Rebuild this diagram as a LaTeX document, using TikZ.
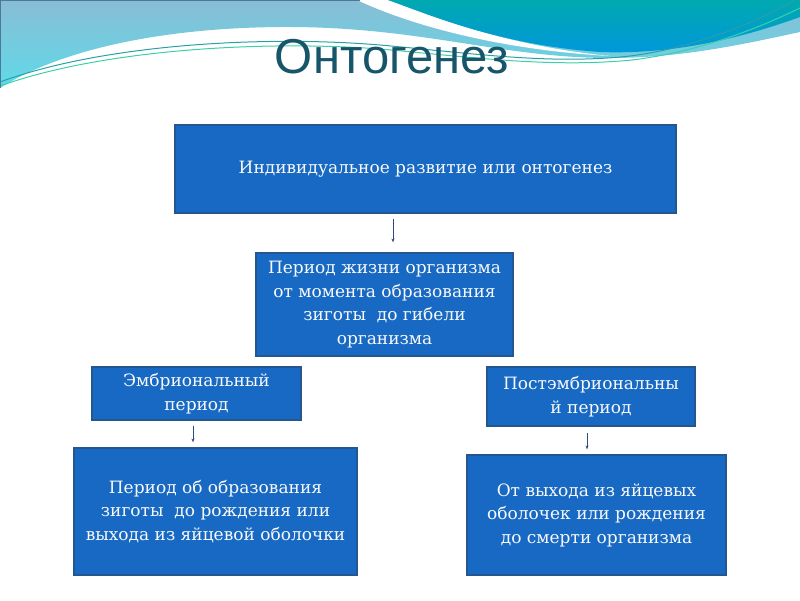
\documentclass[tikz,border=0pt]{standalone}
\usepackage{fontspec}
\setmainfont{DejaVu Serif}
\newfontfamily\titlefont{Liberation Sans}
\usetikzlibrary{positioning,arrows.meta}
\definecolor{BoxBlue}{HTML}{1769C4}
\definecolor{BoxEdge}{HTML}{24578F}
\definecolor{TitleTeal}{HTML}{17556A}
\definecolor{ArrowBlue}{HTML}{2E4C7E}
\definecolor{WaveLight}{HTML}{88BDD5}
\definecolor{WaveCyan}{HTML}{5FDAE8}
\definecolor{WaveTeal}{HTML}{00A9B0}
\definecolor{WaveBlue}{HTML}{0097DC}
\definecolor{WaveEdge}{HTML}{4C7A96}
\definecolor{LineTeal}{HTML}{2A9FA8}
\definecolor{LineGreen}{HTML}{3CCFA8}

\begin{document}
\begin{tikzpicture}[x=1pt, y=-1pt,
      box/.style={draw=BoxEdge, line width=1.2pt, fill=BoxBlue,
                  text=white!95!gray, align=center, inner sep=2pt,
                  font=\fontsize{17}{23.5}\selectfont},
      ar/.style={-{Stealth[length=4pt,width=3pt]}, ArrowBlue, line width=0.8pt},
    ]
      \useasboundingbox (0,0) rectangle (800,600);
      % header waves
      \shade[top color=WaveLight, bottom color=WaveCyan]
        (0,0) -- (800,0) -- (800,32) .. controls (740,45) and (680,58) .. (610,58)
        .. controls (500,58) and (420,26) .. (280,27)
        .. controls (160,28) and (60,50) .. (0,88) -- cycle;
      \fill[white] (357,0) .. controls (410,25) and (500,50) .. (610,56)
        .. controls (500,45) and (430,15) .. (388,0) -- cycle;
      \shade[top color=WaveTeal, bottom color=WaveBlue]
        (388,0) .. controls (430,15) and (500,45) .. (600,52)
        .. controls (680,55) and (750,35) .. (800,17) -- (800,0) -- cycle;
      \draw[LineTeal, line width=1pt] (0,82) .. controls (100,45) and (260,35) .. (380,45)
        .. controls (470,53) and (550,65) .. (630,56) .. controls (700,47) and (760,20) .. (795,0);
      \draw[LineGreen, line width=1pt] (0,86) .. controls (100,50) and (260,40) .. (380,49)
        .. controls (470,57) and (550,68) .. (632,60) .. controls (705,51) and (765,25) .. (800,8);
      \draw[WaveEdge, line width=1.5pt] (0,88) -- (0,0) -- (360,0);
      % title
      \node[font=\titlefont\fontsize{49}{49}\selectfont, text=TitleTeal] (title) at (392,57) {Онтогенез};
      % boxes
      \node[box, minimum width=501pt, minimum height=88pt] (indiv) at (425.5,169)
            {Индивидуальное развитие или онтогенез};
      \node[box, minimum width=257pt, minimum height=103pt] (life) at (384.5,304.5)
            {Период жизни организма\\от момента образования\\зиготы~ до гибели\\организма};
      \node[box, minimum width=209pt, minimum height=53pt] (embr) at (196.5,393.5)
            {Эмбриональный\\период};
      \node[box, minimum width=283pt, minimum height=127pt] (embrtime) at (215.5,511.5)
            {Период об образования\\зиготы~ до рождения или\\выхода из яйцевой оболочки};
      \node[box, minimum width=208pt, minimum height=59pt] (post) at (591,396.5)
            {Постэмбриональны\\й период};
      \node[box, minimum width=259pt, minimum height=120pt] (posttime) at (596.5,515)
            {От выхода из яйцевых\\оболочек или рождения\\до смерти организма};
      \draw[ar] ([xshift=-32.5pt,yshift=-5pt]indiv.south) -- ([xshift=8.5pt,yshift=10pt]life.north);
      \draw[ar] ([xshift=-3.5pt,yshift=-5pt]embr.south) -- ([xshift=-22.5pt,yshift=5pt]embrtime.north);
      \draw[ar] ([xshift=-4pt,yshift=-6pt]post.south) -- ([xshift=-9.5pt,yshift=5pt]posttime.north);
    \end{tikzpicture}
\end{document}
